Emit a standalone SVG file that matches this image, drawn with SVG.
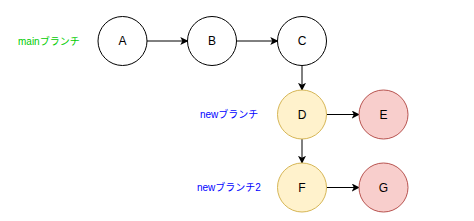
<svg xmlns="http://www.w3.org/2000/svg" width="474" height="221" viewBox="0 0 474 221">
<style>
.n{stroke-width:1}
.w{fill:#ffffff;stroke:#000000}
.y{fill:#fff2cc;stroke:#d6b656}
.r{fill:#f8cecc;stroke:#b85450}
.t{font-family:"Liberation Sans",Arial,sans-serif;font-size:12px;fill:#000000;text-anchor:middle;dominant-baseline:central}
.l{font-family:"Liberation Sans","Noto Sans CJK JP",sans-serif;font-size:10px;dominant-baseline:central}
.c{stroke:#000000;stroke-width:1;fill:none;marker-end:url(#ar)}
</style>
<defs>
<marker id="ar" viewBox="0 0 10 10" refX="9" refY="5" markerWidth="8" markerHeight="8" markerUnits="userSpaceOnUse" orient="auto">
<path d="M0,0 L10,5 L0,10 L2.5,5 Z" fill="#000000"/>
</marker>
</defs>
<rect width="474" height="221" fill="#ffffff"/>
<g id="labels">
<text class="l" x="18" y="41" fill="#00cc00">mainブランチ</text>
<text class="l" x="200" y="114" fill="#0000ff">newブランチ</text>
<text class="l" x="197" y="187" fill="#0000ff">newブランチ2</text>
</g>
<g id="connectors">
<line class="c" x1="147" y1="41" x2="187.5" y2="41"/>
<line class="c" x1="236.5" y1="41" x2="277.5" y2="41"/>
<line class="c" x1="302" y1="65.5" x2="302" y2="90"/>
<line class="c" x1="326.5" y1="114.5" x2="359" y2="114.5"/>
<line class="c" x1="302" y1="139" x2="302" y2="163"/>
<line class="c" x1="326.5" y1="187.5" x2="359" y2="187.5"/>
</g>
<g id="A"><circle class="n w" cx="122.5" cy="41" r="24.5"/><text class="t" x="122.5" y="41">A</text></g>
<g id="B"><circle class="n w" cx="212" cy="41" r="24.5"/><text class="t" x="212" y="41">B</text></g>
<g id="C"><circle class="n w" cx="302" cy="41" r="24.5"/><text class="t" x="302" y="41">C</text></g>
<g id="D"><circle class="n y" cx="302" cy="114.5" r="24.5"/><text class="t" x="302" y="114.5">D</text></g>
<g id="E"><circle class="n r" cx="383.5" cy="114.5" r="24.5"/><text class="t" x="383.5" y="114.5">E</text></g>
<g id="F"><circle class="n y" cx="302" cy="187.5" r="24.5"/><text class="t" x="302" y="187.5">F</text></g>
<g id="G"><circle class="n r" cx="383.5" cy="187.5" r="24.5"/><text class="t" x="383.5" y="187.5">G</text></g>
</svg>
